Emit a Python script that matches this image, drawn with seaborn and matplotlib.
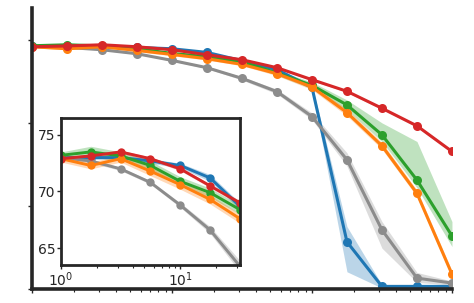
import numpy as np
import pandas as pd
import seaborn as sns
import matplotlib
matplotlib.use("Agg")
import matplotlib.pyplot as plt
from matplotlib.ticker import LogLocator, NullFormatter

# === Dados ===
X = [10 ** (k / 4) for k in range(13)]  # 1 ... 1000

SERIES = ["blue", "grey", "green", "orange", "red"]
COLORS = {"blue": "#1f77b4", "grey": "#8c8c8c", "green": "#2ca02c",
          "orange": "#ff7f0e", "red": "#d62728"}

blue   = [73.0, 73.0, 73.0, 72.7, 72.3, 71.2, 68.7, 66.0, 60.7, 14.2, 0.8, 0.8, 0.8]
grey   = [73.0, 72.7, 72.0, 70.8, 68.8, 66.6, 63.4, 59.4, 51.9, 38.9, 17.8, 3.3, 1.8]
green  = [73.2, 73.5, 73.15, 72.3, 70.9, 69.9, 68.4, 65.0, 61.3, 55.4, 46.4, 32.8, 16.0]
orange = [72.9, 72.3, 72.9, 71.8, 70.6, 69.3, 67.6, 64.8, 60.8, 53.1, 43.1, 28.8, 4.5]
red    = [72.9, 73.15, 73.5, 72.9, 72.0, 70.5, 69.0, 66.6, 63.0, 59.5, 54.4, 49.1, 41.4]

# limites das faixas de incerteza
blue_lo   = [72.85, 72.85, 72.8, 72.5, 72.1, 70.9, 68.4, 65.5, 60.0, 5.2, 0.3, 0.6, 0.6]
blue_hi   = [73.15, 73.15, 73.2, 72.9, 72.5, 71.5, 69.0, 66.5, 61.4, 18.8, 1.3, 1.0, 1.0]
grey_lo   = [72.85, 72.55, 71.85, 70.65, 68.6, 66.3, 62.9, 58.7, 51.0, 37.0, 12.3, 2.0, 1.2]
grey_hi   = [73.15, 72.85, 72.15, 70.95, 69.0, 66.9, 63.9, 60.1, 53.0, 41.0, 20.3, 5.0, 2.4]
green_lo  = [72.9, 73.0, 72.8, 71.9, 70.5, 69.5, 68.0, 64.3, 60.3, 53.9, 44.4, 30.5, 12.8]
green_hi  = [73.5, 74.0, 73.5, 72.7, 71.3, 70.3, 68.8, 65.7, 62.3, 56.9, 50.0, 44.4, 20.3]
orange_lo = [72.6, 72.0, 72.6, 71.4, 70.2, 68.9, 67.2, 64.2, 60.0, 52.1, 42.1, 27.8, 3.5]
orange_hi = [73.2, 72.6, 73.2, 72.2, 71.0, 69.7, 68.0, 65.4, 61.6, 54.1, 44.1, 29.8, 5.5]
red_lo    = [72.75, 73.0, 73.35, 72.75, 71.85, 70.35, 68.8, 66.3, 62.7, 59.2, 54.0, 48.7, 41.0]
red_hi    = [73.05, 73.3, 73.65, 73.05, 72.15, 70.65, 69.2, 66.9, 63.3, 59.8, 54.8, 49.5, 41.8]

MEANS = {"blue": blue, "grey": grey, "green": green, "orange": orange, "red": red}
LOWS = {"blue": blue_lo, "grey": grey_lo, "green": green_lo, "orange": orange_lo, "red": red_lo}
HIGHS = {"blue": blue_hi, "grey": grey_hi, "green": green_hi, "orange": orange_hi, "red": red_hi}

N_INSET = 7  # primeiros pontos (1 ... 10^1.5) no detalhe

sns.set_style("ticks")
plt.rcParams["font.family"] = ["DejaVu Sans"]


def draw(ax, n, lw, ms):
    for name in SERIES:
        c = COLORS[name]
        ax.fill_between(X[:n], LOWS[name][:n], HIGHS[name][:n], color=c, alpha=0.3, lw=0)
        sns.lineplot(x=X[:n], y=MEANS[name][:n], ax=ax, color=c, lw=lw,
                     marker="o", markersize=ms, markeredgewidth=0)


fig = plt.figure(figsize=(4.74, 3.03), dpi=100)

# === Eixo principal ===
ax = fig.add_axes([0.0675, 0.046, 0.886, 0.928])
draw(ax, len(X), 2.2, 6.5)
ax.set_xscale("log")
ax.set_xlim(1, 1000)
ax.set_ylim(0, 84.6)
ax.set_yticks([0, 25, 50, 75])
ax.xaxis.set_minor_locator(LogLocator(base=10, subs=np.arange(2, 10)))
ax.xaxis.set_minor_formatter(NullFormatter())
ax.set_xticklabels([])
ax.set_yticklabels([])
ax.tick_params(which="major", length=3, width=1)
ax.tick_params(which="minor", length=2, width=0.8)
sns.despine(ax=ax)
for s in ["left", "bottom"]:
    ax.spines[s].set_linewidth(2.6)

# === Detalhe (inset) ===
axi = fig.add_axes([0.1287, 0.1254, 0.3773, 0.4852])
draw(axi, N_INSET, 2.1, 6)
axi.set_xscale("log")
axi.set_xlim(1, X[N_INSET - 1])
axi.set_ylim(63.5, 76.5)
axi.set_yticks([65, 70, 75])
axi.xaxis.set_minor_locator(LogLocator(base=10, subs=np.arange(2, 10)))
axi.xaxis.set_minor_formatter(NullFormatter())
axi.tick_params(labelsize=10, length=3, width=1, pad=1)
axi.tick_params(which="minor", length=2, width=0.8)
for s in axi.spines.values():
    s.set_linewidth(2)
axi.set_facecolor("white")

fig.savefig("out.png", dpi=100)
